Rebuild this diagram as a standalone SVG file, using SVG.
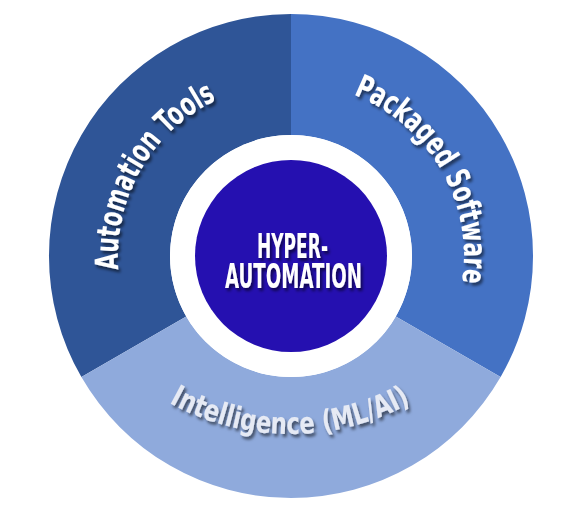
<svg xmlns="http://www.w3.org/2000/svg" width="579" height="513" viewBox="0 0 579 513">
  <defs>
    <filter id="shadow" x="-20%" y="-20%" width="140%" height="140%">
      <feDropShadow dx="2" dy="3" stdDeviation="1.8" flood-color="#000" flood-opacity="0.55"/>
    </filter>
    <path id="arcLeft" d="M 141.2 342.5 A 173 173 0 0 1 291 83"/>
    <path id="arcRight" d="M 291 83 A 173 173 0 0 1 440.8 342.5"/>
    <path id="arcBottom" d="M 73.5 309 A 250 250 0 0 0 506.5 309"/>
  </defs>
  <style>
    .lbl { font-family: "Liberation Sans Narrow", "DejaVu Sans Condensed", "Liberation Sans", sans-serif; font-weight: bold; font-stretch: condensed; filter: url(#shadow); }
    .seg-text { font-size: 32px; fill: #ffffff; }
    .center-text { font-size: 33px; fill: #ffffff; }
  </style>
  <rect width="579" height="513" fill="#ffffff"/>

  <g id="automation-tools">
    <path d="M 81.4 377 A 242 242 0 0 1 291 14 L 291 135 A 121 121 0 0 0 186.2 316.5 Z" fill="#2F5597"/>
    <text class="lbl seg-text"><textPath href="#arcLeft" startOffset="50%" text-anchor="middle" textLength="208" lengthAdjust="spacingAndGlyphs">Automation Tools</textPath></text>
  </g>

  <g id="packaged-software">
    <path d="M 291 14 A 242 242 0 0 1 500.6 377 L 395.8 316.5 A 121 121 0 0 0 291 135 Z" fill="#4472C4"/>
    <text class="lbl seg-text"><textPath href="#arcRight" startOffset="50%" text-anchor="middle" textLength="234" lengthAdjust="spacingAndGlyphs">Packaged Software</textPath></text>
  </g>

  <g id="intelligence">
    <path d="M 500.6 377 A 242 242 0 0 1 81.4 377 L 186.2 316.5 A 121 121 0 0 0 395.8 316.5 Z" fill="#8FAADC"/>
    <text class="lbl" font-size="30" fill="#E6EAF4"><textPath href="#arcBottom" startOffset="50%" text-anchor="middle" textLength="252" lengthAdjust="spacingAndGlyphs">Intelligence (ML/AI)</textPath></text>
  </g>

  <g id="hyperautomation">
    <circle cx="291" cy="256" r="121" fill="#ffffff"/>
    <circle cx="291" cy="256" r="96" fill="#2510B0"/>
    <text class="lbl center-text" x="292.5" y="258" text-anchor="middle" textLength="71" lengthAdjust="spacingAndGlyphs">HYPER-</text>
    <text class="lbl center-text" x="293.5" y="288" text-anchor="middle" textLength="137" lengthAdjust="spacingAndGlyphs">AUTOMATION</text>
  </g>
</svg>
